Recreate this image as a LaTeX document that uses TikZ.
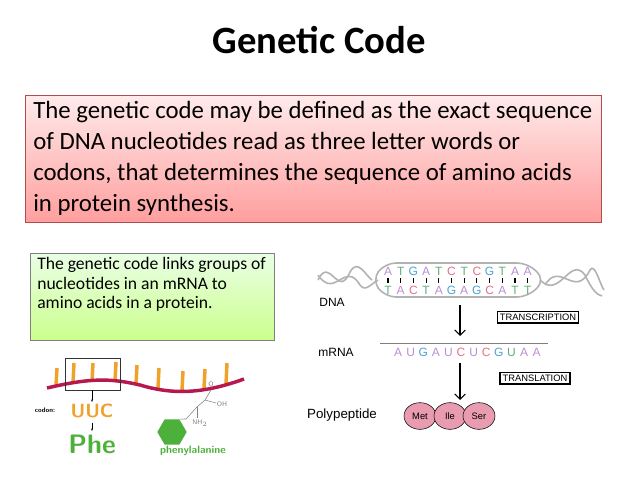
\documentclass[tikz,border=0pt]{standalone}
\usepackage{fontspec}
\setmainfont{Carlito}
\newfontfamily\hand{Liberation Sans}
\usetikzlibrary{shapes.geometric,arrows.meta}
\definecolor{cA}{HTML}{B88FD2}
\definecolor{cT}{HTML}{5FAE7A}
\definecolor{cG}{HTML}{4AA3D0}
\definecolor{cC}{HTML}{E0708E}
\definecolor{org}{HTML}{F0A12A}
\definecolor{grn}{HTML}{4DB03A}
\definecolor{crim}{HTML}{B5194F}
\tikzset{
 base/.style={font=\hand\small},
 lab/.style={draw,thick,font=\hand\scriptsize,inner sep=2pt},
 aa/.style={ellipse,draw=black,fill=cC!70,minimum width=24pt,minimum height=20pt,inner sep=0pt,font=\hand\scriptsize},
 arr/.style={-{Straight Barb[length=4pt]},thick},
}
\begin{document}
\begin{tikzpicture}[x=0.75pt,y=-0.75pt]
\useasboundingbox (0,0) rectangle (638,478);
\node[font={\fontsize{29}{34}\selectfont\bfseries}] (title) at (319,40) {Genetic Code};
\shade[top color=red!8,bottom color=red!38,draw=red!40!gray] (25,95) rectangle (601,222);
\node[anchor=north west,align=left,inner sep=0pt,font={\fontsize{18.6}{23.3}\selectfont}] (def) at (33,101)
 {The genetic code may be defined as the exact sequence\\ of DNA nucleotides read as three letter words or\\ codons, that determines the sequence of amino acids\\ in protein synthesis.};
\shade[top color=yellow!15!green!10,bottom color=green!45!yellow!45,draw=gray] (30,253) rectangle (274,340);
\node[anchor=north west,align=left,inner sep=0pt,font={\fontsize{13.2}{14.8}\selectfont}] (gtext) at (37,257)
 {The genetic code links groups of\\ nucleotides in an mRNA to\\ amino acids in a protein.};
% DNA ribbon
\draw[gray!60,line width=1.2pt] (318,280) .. controls (330,255) and (338,300) .. (350,272) .. controls (358,258) and (365,275) .. (372,280);
\draw[gray!60,line width=1.2pt] (318,275) .. controls (335,300) and (345,260) .. (360,285) .. controls (365,292) and (370,285) .. (378,280);
\draw[gray!60,line width=1.2pt] (540,280) .. controls (560,300) and (570,255) .. (585,275) .. controls (592,290) and (597,295) .. (602,296);
\draw[gray!60,line width=1.2pt] (545,285) .. controls (560,260) and (575,300) .. (590,270) .. controls (595,262) and (600,285) .. (604,290);
\draw[gray!60,line width=1.2pt,rounded corners=8pt] (372,280) -- (385,263) -- (528,263) -- (545,280) -- (528,297) -- (385,297) -- cycle;
\foreach \t/\c [count=\i] in {A/cA,T/cT,G/cG,A/cA,T/cT,C/cC,T/cT,C/cC,G/cG,T/cT,A/cA,A/cA}
 \node[base,text=\c] (t\i) at ({388+(\i-1)*12.7},271) {\t};
\foreach \t/\c [count=\i] in {T/cT,A/cA,C/cC,T/cT,A/cA,G/cG,A/cA,G/cG,C/cC,A/cA,T/cT,T/cT}
 \node[base,text=\c] (b\i) at ({388+(\i-1)*12.7},290) {\t};
\foreach \i in {1,...,12} \draw[thick] ({388+(\i-1)*12.7},278) -- ({388+(\i-1)*12.7},283);
\node[base] (dna) at (332,302) {DNA};
\coordinate (a1s) at (460,305); \coordinate (a1e) at (460,336);
\draw[arr] (a1s) -- (a1e);
\node[lab] (trc) at (538,317) {TRANSCRIPTION};
\coordinate (ml) at (380,343); \coordinate (mr) at (548,343);
\draw[gray] (ml) -- (mr);
\foreach \t/\c [count=\i] in {A/cA,U/cA,G/cG,A/cA,U/cA,C/cC,U/cA,C/cC,G/cG,U/cT,A/cA,A/cA}
 \node[base,text=\c] (m\i) at ({398+(\i-1)*12.6},352) {\t};
\node[base] (mrna) at (336,352) {mRNA};
\coordinate (a2s) at (460,363); \coordinate (a2e) at (460,400);
\draw[arr] (a2s) -- (a2e);
\node[lab] (trl) at (535,378) {TRANSLATION};
\node[font=\hand\normalsize] (poly) at (342,415) {Polypeptide};
\node[aa] (met) at (420,416) {Met};
\node[aa] (ile) at (450,416) {Ile};
\node[aa] (ser) at (479,416) {Ser};
% left mRNA cartoon
\foreach \x/\y/\t in {56/385/368,73/383/363,92/382/363,115/381/362,136/384/365,158/388/368,182/390/371,204/388/369,226/384/363}
 \draw[org,line width=2.6pt] (\x,\y) -- (\x+1,\t);
\draw[crim,line width=2.6pt] (47,388) .. controls (90,378) and (110,378) .. (140,385) .. controls (170,394) and (200,395) .. (244,379);
\draw[gray!40!black] (65,358) rectangle (120,390);
\coordinate (c1) at (92,390); \coordinate (c2) at (92,402);
\draw[-{Stealth[length=2pt]},thin] (c1) -- (c2);
\node[font=\sffamily\bfseries\tiny] (codon) at (45,410) {codon:};
\node[font=\sffamily\bfseries\Large,text=org] (uuc) at (92,411) {UUC};
\draw[-{Stealth[length=2pt]},thin] (uuc) -- (92,431);
\node[font={\fontsize{20}{22}\sffamily\bfseries\selectfont},text=grn] (phe) at (92,444) {Phe};
\node[regular polygon,regular polygon sides=6,fill=grn,minimum size=22pt,inner sep=0pt] (hex) at (172,432) {};
\draw[gray] (hex.corner 1) -- (186,419) -- (197,407) -- (205,400) -- (211,390);
\draw[gray] (205,400) -- (216,403);
\draw[gray] (197,407) -- (197,418);
\node[font=\sffamily\tiny,text=gray] (oxy) at (211,384) {O};
\node[font=\sffamily\tiny,text=gray] (oh) at (222,404) {OH};
\node[font=\sffamily\tiny,text=gray] (nh) at (200,423) {NH$_2$};
\node[font=\sffamily\bfseries\footnotesize,text=grn] (phen) at (193,451) {phenylalanine};
\end{tikzpicture}
\end{document}
